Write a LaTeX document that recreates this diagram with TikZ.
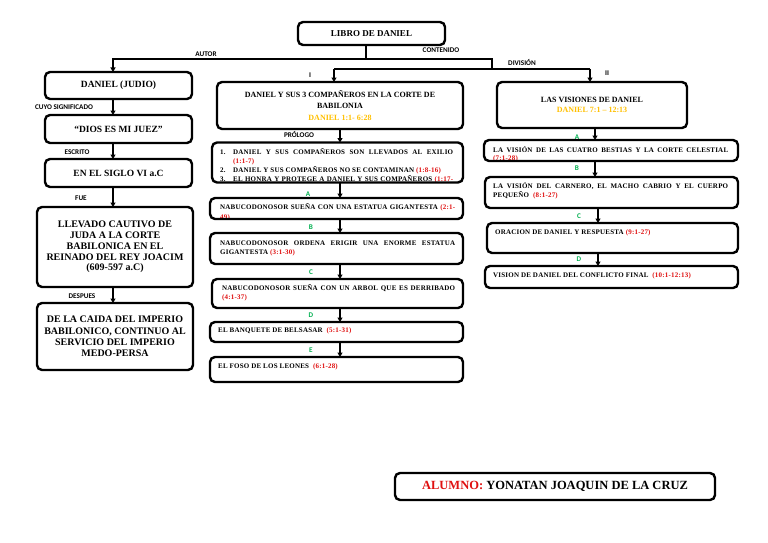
\documentclass[tikz,border=0pt]{standalone}
\usepackage{fontspec}
\setmainfont{Liberation Serif}
\newfontfamily\lblf{Carlito}
\newfontfamily\smf[LetterSpace=3]{Liberation Serif}
\usetikzlibrary{arrows.meta}
\definecolor{gold}{HTML}{FFC000}
\definecolor{refred}{HTML}{E01010}
\definecolor{grn}{HTML}{00B050}
\pgfdeclarelayer{bg}\pgfsetlayers{bg,main}
\newcommand\rr[1]{\textcolor{refred}{#1}}
\begin{document}
\begin{tikzpicture}[x=1pt,y=-1pt,
 box/.style={draw, line width=2.4pt, rounded corners=5pt, inner sep=0pt, outer sep=0pt, align=center},
 big/.style={font=\bfseries\fontsize{9.5}{11}\selectfont},
 lbl/.style={font=\lblf\bfseries\fontsize{7.2}{8}\selectfont, inner sep=0pt},
 grl/.style={lbl, text=grn},
 conn/.style={line width=1.3pt},
 arr/.style={conn, -{Triangle[length=4.5pt,width=5pt]}},
 sm/.style={font=\smf\bfseries\fontsize{7}{9}\selectfont, inner sep=0pt, align=justify, anchor=base west, text width=235pt},
]
\useasboundingbox (0,0) rectangle (768,543);
\begin{pgfonlayer}{bg}\fill[white] (0,0) rectangle (768,543);\end{pgfonlayer}

% top
\node[box, font=\bfseries\fontsize{9}{11}\selectfont, minimum width=147, minimum height=23] (libro) at (371.5,33.5) {LIBRO DE DANIEL};

% left column
\node[box, big, minimum width=147, minimum height=27] (judio) at (118.5,85.5) {DANIEL (JUDIO)};
\node[box, big, minimum width=147, minimum height=28] (dios) at (118.5,129) {“DIOS ES MI JUEZ”};
\node[box, big, minimum width=147, minimum height=28] (siglo) at (118.5,173) {EN EL SIGLO VI a.C};
\node[box, font=\bfseries\fontsize{10}{10.8}\selectfont, minimum width=156, minimum height=80] (llev) at (115,247) {LLEVADO CAUTIVO DE\\JUDA A LA CORTE\\BABILONICA EN EL\\REINADO DEL REY JOACIM\\(609-597 a.C)};
\node[box, font=\bfseries\fontsize{10}{11.3}\selectfont, minimum width=156, minimum height=67] (caida) at (115,336.5) {DE LA CAIDA DEL IMPERIO\\BABILONICO, CONTINUO AL\\SERVICIO DEL IMPERIO\\MEDO-PERSA};

% middle column
\node[box, font=\bfseries\fontsize{8}{11.5}\selectfont, minimum width=246, minimum height=47] (cap1) at (340,105.5) {DANIEL Y SUS 3 COMPAÑEROS EN LA CORTE DE\\BABILONIA\\\textcolor{gold}{DANIEL 1:1- 6:28}};
\node[box, minimum width=251, minimum height=40] (prol) at (337.5,162.5) {};
\node[box, minimum width=253, minimum height=21] (m1) at (336.5,208.5) {};
\node[box, minimum width=253, minimum height=31] (m2) at (336.5,248.5) {};
\node[box, minimum width=251, minimum height=29] (m3) at (337.5,293.5) {};
\node[box, minimum width=253, minimum height=20] (m4) at (336.5,332) {};
\node[box, minimum width=253, minimum height=25] (m5) at (336.5,369.5) {};

% right column
\node[box, font=\bfseries\fontsize{8}{10}\selectfont, minimum width=190, minimum height=46] (cap2) at (592,105) {LAS VISIONES DE DANIEL\\\textcolor{gold}{DANIEL 7:1 – 12:13}};
\node[box, minimum width=254, minimum height=21] (r1) at (611,150.5) {};
\node[box, minimum width=253, minimum height=31] (r2) at (611.5,192.5) {};
\node[box, minimum width=251, minimum height=30] (r3) at (612.5,238) {};
\node[box, minimum width=253, minimum height=22] (r4) at (611.5,277) {};

% student
\node[box, font=\bfseries\fontsize{12.5}{14}\selectfont, minimum width=320, minimum height=27] (alumno) at (555,486.5) {\textcolor{refred}{ALUMNO:} YONATAN JOAQUIN DE LA CRUZ};

% box texts (clipped to their boxes)
\begin{pgfonlayer}{bg}
\begin{scope}\clip (prol.south west) rectangle (prol.north east);
\node[sm, text width=233pt] (tprol) at (220,154.5) {%
{\hangindent=13pt\hangafter=1\noindent\makebox[13pt][l]{1.}DANIEL Y SUS COMPAÑEROS SON LLEVADOS AL EXILIO\linebreak\rr{(1:1-7)}\par}%
{\hangindent=13pt\hangafter=1\noindent\makebox[13pt][l]{2.}DANIEL Y SUS COMPAÑEROS NO SE CONTAMINAN \rr{(1:8-16)}\par}%
{\hangindent=13pt\hangafter=1\noindent\makebox[13pt][l]{3.}EL HONRA Y PROTEGE A DANIEL Y SUS COMPAÑEROS \rr{(1:17-\linebreak 21)}\par}};
\end{scope}
\begin{scope}\clip (m1.south west) rectangle (m1.north east);
\node[sm, font=\smf\bfseries\fontsize{7}{10}\selectfont] (tm1) at (220,209) {NABUCODONOSOR SUEÑA CON UNA ESTATUA GIGANTESTA \rr{(2:1-\linebreak 49)}};
\end{scope}
\node[sm] (tm2) at (220,245) {NABUCODONOSOR ORDENA ERIGIR UNA ENORME ESTATUA\linebreak GIGANTESTA \rr{(3:1-30)}};
\node[sm, text width=233pt] (tm3) at (222,290) {NABUCODONOSOR SUEÑA CON UN ARBOL QUE ES DERRIBADO\linebreak\rr{(4:1-37)}};
\node[sm] (tm4) at (218,332) {EL BANQUETE DE BELSASAR\ \ \rr{(5:1-31)}};
\node[sm] (tm5) at (218,368) {EL FOSO DE LOS LEONES\ \ \rr{(6:1-28)}};
\begin{scope}\clip (r1.south west) rectangle (r1.north east);
\node[sm, font=\smf\bfseries\fontsize{7}{8.5}\selectfont] (tr1) at (493,152) {LA VISIÓN DE LAS CUATRO BESTIAS Y LA CORTE CELESTIAL\linebreak\rr{(7:1-28)}};
\end{scope}
\node[sm] (tr2) at (493,188) {LA VISIÓN DEL CARNERO, EL MACHO CABRIO Y EL CUERPO\linebreak PEQUEÑO \ \rr{(8:1-27)}};
\node[sm] (tr3) at (495,234) {ORACION DE DANIEL Y RESPUESTA \rr{(9:1-27)}};
\node[sm] (tr4) at (493,277) {VISION DE DANIEL DEL CONFLICTO FINAL\ \ \rr{(10:1-12:13)}};
\end{pgfonlayer}

% labels
\node[lbl] (lautor) at (206,54) {AUTOR};
\node[lbl] (lcont) at (441,50) {CONTENIDO};
\node[lbl] (ldiv) at (522,63) {DIVISIÓN};
\node[lbl] (lI) at (310,75) {I};
\node[lbl] (lII) at (607,73) {II};
\node[lbl] (lcuyo) at (64,107) {CUYO SIGNIFICADO};
\node[lbl] (lesc) at (77,152) {ESCRITO};
\node[lbl] (lfue) at (81,198) {FUE};
\node[lbl] (ldesp) at (82,296) {DESPUES};
\node[lbl] (lprol) at (299,135) {PRÓLOGO};
\node[grl] (gA) at (308,194) {A};
\node[grl] (gB) at (311,227) {B};
\node[grl] (gC) at (311,272) {C};
\node[grl] (gD) at (311,315) {D};
\node[grl] (gE) at (311,350) {E};
\node[grl] (hA) at (577,137) {A};
\node[grl] (hB) at (577,168) {B};
\node[grl] (hC) at (579,216) {C};
\node[grl] (hD) at (579,259) {D};

% connectors
\coordinate (j1) at (366,59);
\coordinate (jl) at (113,59);
\coordinate (jr) at (492,59);
\coordinate (jr2) at (492,69);
\coordinate (xm) at (334,69);
\coordinate (xr) at (590,69);
\draw[arr] (libro.south -| j1) -- (j1) -- (jl) -- (judio.north -| jl);
\draw[conn] (j1) -- (jr) -- (jr2);
\draw[conn] (xm) -- (xr);
\draw[arr] (xm) -- (cap1.north -| xm);
\draw[arr] (xr) -- (cap2.north -| xr);

\coordinate (cl) at (113,0);
\draw[arr] (judio.south -| cl) -- (dios.north -| cl);
\draw[arr] (dios.south -| cl) -- (siglo.north -| cl);
\draw[arr] (siglo.south -| cl) -- (llev.north -| cl);
\draw[arr] (llev.south -| cl) -- (caida.north -| cl);

\coordinate (cm) at (340,0);
\draw[arr] (cap1.south -| cm) -- (prol.north -| cm);
\draw[arr] (prol.south -| cm) -- (m1.north -| cm);
\draw[arr] (m1.south -| cm) -- (m2.north -| cm);
\draw[arr] (m2.south -| cm) -- (m3.north -| cm);
\draw[arr] (m3.south -| cm) -- (m4.north -| cm);
\draw[arr] (m4.south -| cm) -- (m5.north -| cm);

\coordinate (cr) at (595,0);
\coordinate (cr2) at (598,0);
\draw[arr] (cap2.south -| cr) -- (r1.north -| cr);
\draw[arr] (r1.south -| cr) -- (r2.north -| cr);
\draw[arr] (r2.south -| cr2) -- (r3.north -| cr2);
\draw[arr] (r3.south -| cr2) -- (r4.north -| cr2);
\end{tikzpicture}
\end{document}
